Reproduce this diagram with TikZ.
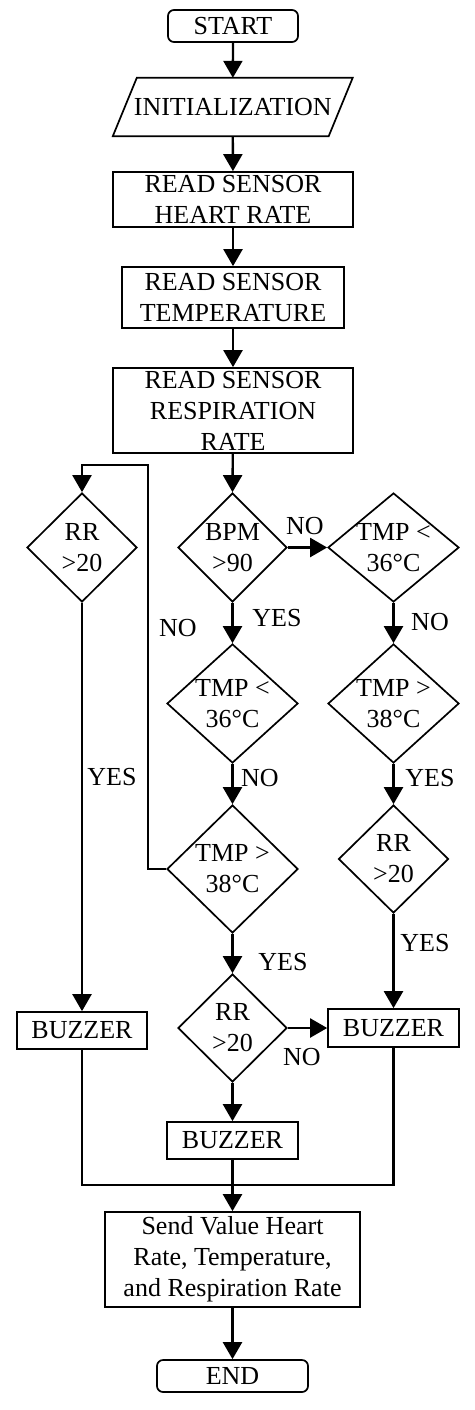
\documentclass[tikz,border=0pt]{standalone}
\usepackage{fontspec}
\setmainfont{Liberation Serif}
\usetikzlibrary{shapes.geometric,arrows.meta}
\begin{document}
\begin{tikzpicture}[x=1pt,y=-1pt,
  every node/.style={font=\fontsize{26}{31}\selectfont},
  box/.style={draw, line width=1.7pt, inner sep=0pt, align=center},
  term/.style={box, rounded corners=6pt},
  dia/.style={draw, diamond, line width=1.7pt, inner sep=0pt},
  txt/.style={inner sep=0pt, align=center},
  lab/.style={inner sep=0pt},
  arr/.style={line width=2.3pt, -{Triangle[width=19pt,length=17pt]}},
  ln/.style={line width=2.3pt}]
\useasboundingbox (0,0) rectangle (474,1410);

\node[term, minimum width=130, minimum height=32] (start) at (233,26) {START};
\node[inner sep=0pt, minimum width=215.5, minimum height=58] (init) at (232.75,107) {INITIALIZATION};
\draw[line width=1.7pt] ([xshift=12pt]init.north west) -- ([xshift=12pt]init.north east)
  -- ([xshift=-12pt]init.south east) -- ([xshift=-12pt]init.south west) -- cycle;
\node[box, minimum width=240, minimum height=55] (heart) at (233,199.5) {READ SENSOR\\HEART RATE};
\node[box, minimum width=222, minimum height=61] (temp) at (233,297.5) {READ SENSOR\\TEMPERATURE};
\node[box, minimum width=240, minimum height=85] (resp) at (233,410.5) {READ SENSOR\\RESPIRATION\\RATE};

\node[dia, minimum width=109, minimum height=109] (bpm) at (232.5,547.5) {};
\node[txt] (bpmT) at (bpm) {BPM\\>90};
\node[dia, minimum width=110, minimum height=109] (rrl) at (82,547.5) {};
\node[txt] (rrlT) at (rrl) {RR\\>20};
\node[dia, minimum width=131, minimum height=109] (tlr) at (393.5,547.5) {};
\node[txt] (tlrT) at (tlr) {TMP <\\36°C};
\node[dia, minimum width=131, minimum height=119] (tlm) at (232.5,703.5) {};
\node[txt] (tlmT) at (tlm) {TMP <\\36°C};
\node[dia, minimum width=131, minimum height=119] (tgr) at (393.5,703.5) {};
\node[txt] (tgrT) at (tgr) {TMP >\\38°C};
\node[dia, minimum width=131, minimum height=128] (tgm) at (232.5,869) {};
\node[txt] (tgmT) at (tgm) {TMP >\\38°C};
\node[dia, minimum width=110, minimum height=108] (rrr) at (393.5,859) {};
\node[txt] (rrrT) at (rrr) {RR\\>20};
\node[dia, minimum width=109, minimum height=108] (rrm) at (232.5,1028) {};
\node[txt] (rrmT) at (rrm) {RR\\>20};

\node[box, minimum width=130, minimum height=37] (bzl) at (82,1030.5) {BUZZER};
\node[box, minimum width=131, minimum height=38] (bzr) at (393.5,1028) {BUZZER};
\node[box, minimum width=131, minimum height=37] (bzm) at (232.5,1140.5) {BUZZER};
\node[box, minimum width=255, minimum height=95] (send) at (232.5,1259.5) {Send Value Heart\\Rate, Temperature,\\and Respiration Rate};
\node[term, minimum width=151, minimum height=32] (end) at (232.5,1376) {END};

\coordinate (loop) at (148,465);
\coordinate (merge) at (232.5,1185);

\draw[arr] (start) -- (init);
\draw[arr] (init) -- (heart);
\draw[arr] (heart) -- (temp);
\draw[arr] (temp) -- (resp);
\draw[arr] (resp) -- (bpm.north);
\draw[arr] (bpm.east) -- (tlr.west);
\draw[arr] (bpm.south) -- (tlm.north);
\draw[arr] (tlm.south) -- (tgm.north);
\draw[arr] (tgm.west) -| (loop) -| (rrl.north);
\draw[arr] (rrl.south) -- (bzl.north);
\draw[arr] (tlr.south) -- (tgr.north);
\draw[arr] (tgr.south) -- (rrr.north);
\draw[arr] (rrr.south) -- (bzr.north);
\draw[arr] (tgm.south) -- (rrm.north);
\draw[arr] (rrm.east) -- (bzr.west);
\draw[arr] (rrm.south) -- (bzm.north);
\draw[ln] (bzl.south) |- (merge) -| (bzr.south);
\draw[arr] (bzm.south) -- (send.north);
\draw[arr] (send.south) -- (end.north);

\node[lab] (n1) at (305,526) {NO};
\node[lab] (y1) at (277,618) {YES};
\node[lab] (n2) at (178,628) {NO};
\node[lab] (n3) at (430,622) {NO};
\node[lab] (n4) at (260,778) {NO};
\node[lab] (y2) at (430,778) {YES};
\node[lab] (y3) at (112,777) {YES};
\node[lab] (y4) at (283,962) {YES};
\node[lab] (y5) at (425,943) {YES};
\node[lab] (n5) at (302,1057) {NO};
\end{tikzpicture}
\end{document}
